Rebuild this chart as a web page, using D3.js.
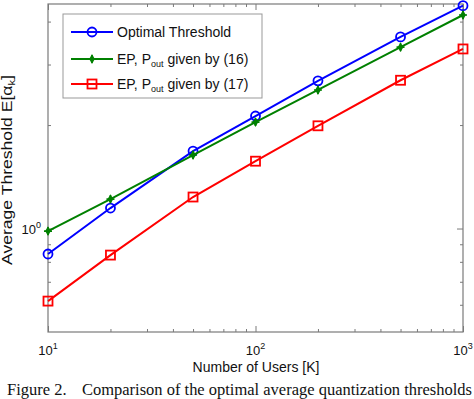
<!DOCTYPE html>
<html><head><meta charset="utf-8">
<script src="https://cdn.jsdelivr.net/npm/d3@7"></script>
<style>body{margin:0;background:#fff}svg{display:block}</style>
</head><body>
<svg id="c" width="474" height="399"></svg>
<script>
const users = [10, 20, 50, 100, 200, 500, 1000];
const optimal = [0.843, 1.147, 1.68, 2.125, 2.69, 3.61, 4.45];
const ep16 = [0.983, 1.218, 1.636, 2.04, 2.53, 3.37, 4.18];
const ep17 = [0.615, 0.837, 1.235, 1.57, 1.99, 2.70, 3.33];
const xMajor = [10, 100, 1000];
const xMajorLabels = ["1", "2", "3"];
const yMajor = [1];
const yMajorLabels = ["0"];
const xMinor = [20,30,40,50,60,70,80,90,200,300,400,500,600,700,800,900];
const yMinor = [0.6,0.7,0.8,0.9,2,3,4];
const legendLabels = ["Optimal Threshold", "EP, P", "EP, P"];

const svg = d3.select("#c");
const L = 48, R = 463, T = 4, B = 332;
const x = d3.scaleLog().domain([10, 1000]).range([L, R]);
const y = d3.scaleLog().domain([0.5, 4.5]).range([B, T]);
const font = "'Liberation Sans', Arial, Helvetica, sans-serif";
const axisCol = "#7a7a7a";

svg.append("rect").attr("x", L).attr("y", T).attr("width", R - L).attr("height", B - T)
  .attr("fill", "none").attr("stroke", axisCol).attr("stroke-width", 1.2);

function axisG(axis, tx, ty) {
  const g = svg.append("g").attr("transform", `translate(${tx},${ty})`).call(axis);
  g.select(".domain").remove();
  g.selectAll("line").attr("stroke", axisCol);
  g.selectAll("text").remove();
  return g;
}
axisG(d3.axisBottom(x).tickValues(xMajor).tickSizeInner(-6).tickSizeOuter(0), 0, B);
axisG(d3.axisBottom(x).tickValues(xMinor).tickSizeInner(-3).tickSizeOuter(0), 0, B);
axisG(d3.axisTop(x).tickValues(xMajor).tickSizeInner(-6).tickSizeOuter(0), 0, T);
axisG(d3.axisTop(x).tickValues(xMinor).tickSizeInner(-3).tickSizeOuter(0), 0, T);
axisG(d3.axisLeft(y).tickValues(yMajor).tickSizeInner(-6).tickSizeOuter(0), L, 0);
axisG(d3.axisLeft(y).tickValues(yMinor).tickSizeInner(-3).tickSizeOuter(0), L, 0);
axisG(d3.axisRight(y).tickValues(yMajor).tickSizeInner(-6).tickSizeOuter(0), R, 0);
axisG(d3.axisRight(y).tickValues(yMinor).tickSizeInner(-3).tickSizeOuter(0), R, 0);

xMajor.forEach((v, i) => {
  const t = svg.append("text").attr("x", x(v)).attr("y", 355).attr("text-anchor", "middle")
    .attr("font-family", font).attr("font-size", 13).attr("fill", "#111");
  t.append("tspan").text("10");
  t.append("tspan").attr("dy", -6).attr("font-size", 9).text(xMajorLabels[i]);
});
yMajor.forEach((v, i) => {
  const t = svg.append("text").attr("x", 41).attr("y", y(v) + 5).attr("text-anchor", "end")
    .attr("font-family", font).attr("font-size", 13).attr("fill", "#111");
  t.append("tspan").text("10");
  t.append("tspan").attr("dy", -6).attr("font-size", 9).text(yMajorLabels[i]);
});

svg.append("text").attr("x", 256).attr("y", 372).attr("text-anchor", "middle")
  .attr("font-family", font).attr("font-size", 14).attr("fill", "#111").text("Number of Users [K]");
const yl = svg.append("text").attr("transform", "translate(12,170) rotate(-90)").attr("text-anchor", "middle")
  .attr("font-family", font).attr("font-size", 14).attr("fill", "#111")
  .attr("textLength", 190).attr("lengthAdjust", "spacingAndGlyphs");
yl.append("tspan").text("Average Threshold E[\u03B1");
yl.append("tspan").attr("font-size", 9).attr("dy", 3).text("k");
yl.append("tspan").attr("dy", -3).text("]");

svg.append("text").attr("x", 7).attr("y", 395).attr("font-family", "'Liberation Serif', 'Times New Roman', serif")
  .attr("font-size", 16.5).attr("fill", "#111").text("Figure 2.");
svg.append("text").attr("x", 82).attr("y", 395).attr("font-family", "'Liberation Serif', 'Times New Roman', serif")
  .attr("font-size", 16.5).attr("fill", "#111").attr("textLength", 390).attr("lengthAdjust", "spacingAndGlyphs")
  .text("Comparison of the optimal average quantization thresholds");

const series = [
  {vals: optimal, color: "#0000ff", marker: "circle"},
  {vals: ep16, color: "#008000", marker: "star"},
  {vals: ep17, color: "#ff0000", marker: "square"}
];
const line = d3.line().x(d => x(d[0])).y(d => y(d[1]));
function drawMarker(g, type, cx, cy, color) {
  if (type === "circle") {
    g.append("circle").attr("cx", cx).attr("cy", cy).attr("r", 4.5)
      .attr("fill", "none").attr("stroke", color).attr("stroke-width", 1.8);
  } else if (type === "square") {
    g.append("rect").attr("x", cx - 4.5).attr("y", cy - 4.5).attr("width", 9).attr("height", 9)
      .attr("fill", "none").attr("stroke", color).attr("stroke-width", 1.8);
  } else {
    g.append("path").attr("d", d3.symbol().type(d3.symbolDiamond).size(28)()).attr("transform", `translate(${cx},${cy})`)
      .attr("fill", color);
    const s = 4;
    g.append("path").attr("d", `M${cx-s},${cy}L${cx+s},${cy}M${cx},${cy-s}L${cx},${cy+s}`)
      .attr("stroke", color).attr("stroke-width", 1.6);
  }
}
series.forEach(s => {
  const pts = users.map((u, i) => [u, s.vals[i]]);
  svg.append("path").attr("d", line(pts)).attr("fill", "none").attr("stroke", s.color).attr("stroke-width", 2);
  const g = svg.append("g");
  pts.forEach(p => drawMarker(g, s.marker, x(p[0]), y(p[1]), s.color));
});

svg.append("rect").attr("x", 63).attr("y", 14).attr("width", 199).attr("height", 84)
  .attr("fill", "#fff").attr("stroke", "#999").attr("stroke-width", 1);
const rows = [32, 59, 84];
series.forEach((s, i) => {
  const g = svg.append("g");
  g.append("line").attr("x1", 71).attr("x2", 113).attr("y1", rows[i]).attr("y2", rows[i])
    .attr("stroke", s.color).attr("stroke-width", 2);
  drawMarker(g, s.marker, 92, rows[i], s.color);
  const t = g.append("text").attr("x", 117).attr("y", rows[i] + 5).attr("font-family", font)
    .attr("font-size", 14).attr("fill", "#111");
  t.append("tspan").text(legendLabels[i]);
  if (i > 0) {
    t.append("tspan").attr("font-size", 9).attr("dy", 3).text("out");
    t.append("tspan").attr("dy", -3).text(" given by (" + (i === 1 ? "16" : "17") + ")");
  }
});
</script>
</body></html>
